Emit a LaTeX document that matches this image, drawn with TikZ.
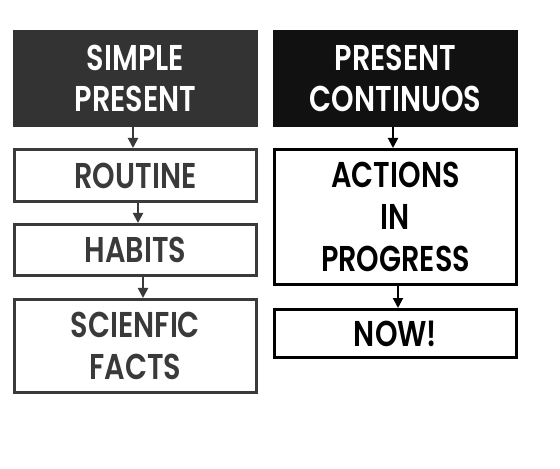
\documentclass[tikz,border=0pt]{standalone}
\usepackage{fontspec}
\usetikzlibrary{arrows.meta}
\newfontfamily\pf{Poppins SemiBold}[FakeStretch=0.80]
\definecolor{lgray}{HTML}{3A3A3A}
\definecolor{hdrL}{HTML}{333333}
\definecolor{hdrR}{HTML}{111111}
\begin{document}
\begin{tikzpicture}[x=1bp,y=-1bp,
  box/.style={rectangle,line width=3bp,minimum width=242bp,inner sep=0pt,align=center,
    font=\pf\fontsize{36}{42}\selectfont},
  lbox/.style={box,draw=lgray,text=lgray,fill=white},
  rbox/.style={box,draw=black,text=black,fill=white},
  lhdr/.style={box,draw=hdrL,fill=hdrL,text=white},
  rhdr/.style={box,draw=hdrR,fill=hdrR,text=white},
  arr/.style={line width=2bp,-{Triangle[length=10bp,width=10bp]}},
  larr/.style={arr,draw=lgray,fill=lgray},
  rarr/.style={arr,draw=black}]
\useasboundingbox (0,0) rectangle (560,469);
\fill[white] (0,0) rectangle (560,469);
% left column
\node[lhdr,minimum height=94bp] (sp) at (135.5,78.5) {SIMPLE\\PRESENT};
\node[lbox,minimum height=52bp] (rt) at (135.5,175.5) {ROUTINE};
\node[lbox,minimum height=51bp] (hb) at (135.5,250) {HABITS};
\node[lbox,minimum height=93bp] (sf) at (135.5,346) {SCIENFIC\\FACTS};
% right column
\node[rhdr,minimum height=94bp] (pc) at (395.5,78.5) {PRESENT\\CONTINUOS};
\node[rbox,minimum height=135bp] (ap) at (395.5,217) {ACTIONS\\IN\\PROGRESS};
\node[rbox,minimum height=48bp] (nw) at (395.5,333.5) {NOW!};
% arrows
\draw[larr] ([xshift=-2.5bp]sp.south) -- ([xshift=-2.5bp]rt.north);
\draw[larr] ([xshift=2.5bp]rt.south) -- ([xshift=2.5bp]hb.north);
\draw[larr] ([xshift=7.5bp]hb.south) -- ([xshift=7.5bp]sf.north);
\draw[rarr] ([xshift=-2.5bp]pc.south) -- ([xshift=-2.5bp]ap.north);
\draw[rarr] ([xshift=2.5bp]ap.south) -- ([xshift=2.5bp]nw.north);
\end{tikzpicture}
\end{document}
